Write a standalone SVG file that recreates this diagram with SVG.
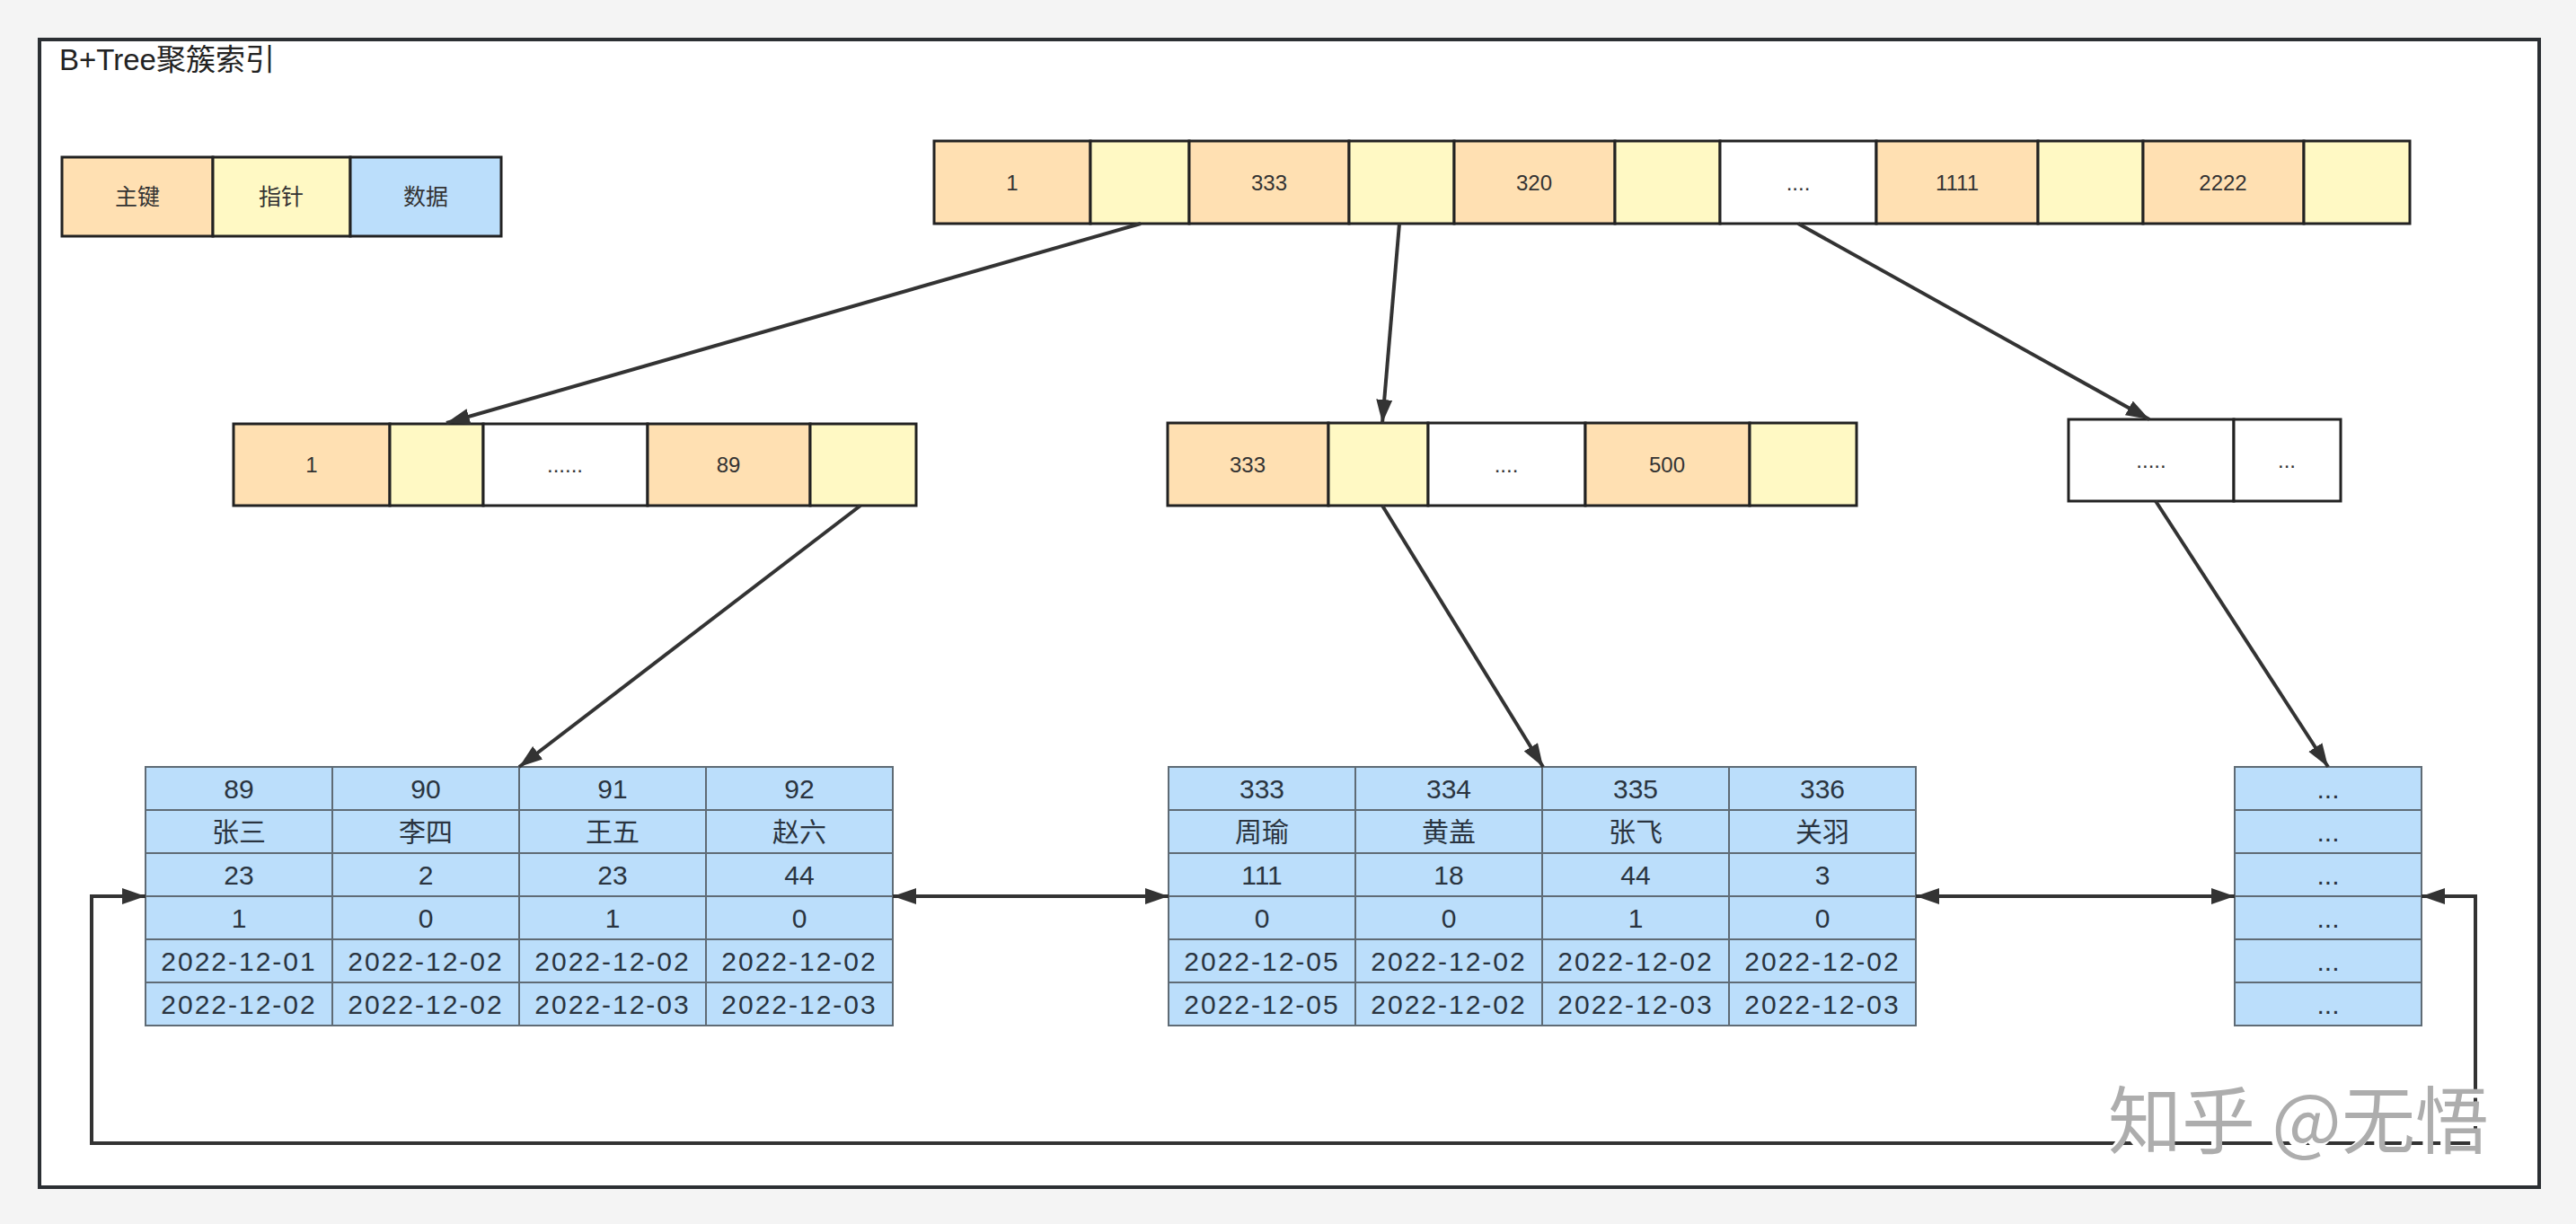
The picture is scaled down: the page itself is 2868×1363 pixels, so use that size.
<svg xmlns="http://www.w3.org/2000/svg" width="2868" height="1363" viewBox="0 0 2868 1363">
<defs>
<style>
text{font-family:"Liberation Sans","Noto Sans CJK SC",sans-serif;fill:#333;text-anchor:middle;dominant-baseline:central}
.k{fill:#FFE0B2}.p{fill:#FFF9C4}.w{fill:#FFFFFF}.d{fill:#BBDEFB}
.n rect{stroke:#222;stroke-width:3}
.n text{font-size:24px}
.lg text{font-size:25px}
.leaf rect{fill:#BBDEFB;stroke:#5f6b75;stroke-width:2}
.leaf text{font-size:30px;fill:#2a3440}
.dt{letter-spacing:2px}
.c{fill:none;stroke:#333;stroke-width:4}
</style>
<marker id="ah" markerUnits="userSpaceOnUse" markerWidth="28" markerHeight="20" refX="26" refY="9" orient="auto-start-reverse" viewBox="0 0 28 20">
<path d="M0,0 L26,9 L0,18 z" fill="#333"/>
</marker>
</defs>
<rect x="0" y="0" width="2868" height="1363" fill="#f4f4f4"/>
<rect x="44" y="44" width="2783" height="1278" fill="#fff" stroke="#2b2f33" stroke-width="4"/>
<text x="66" y="78" style="font-size:33px;text-anchor:start;dominant-baseline:auto;fill:#222">B+Tree聚簇索引</text>

<g id="legend" class="n lg">
<rect class="k" x="69" y="175" width="168" height="88"/><text x="153" y="219">主键</text>
<rect class="p" x="237" y="175" width="153" height="88"/><text x="313" y="219">指针</text>
<rect class="d" x="390" y="175" width="168" height="88"/><text x="474" y="219">数据</text>
</g>

<g id="root" class="n">
<rect class="k" x="1040" y="157" width="174" height="92"/><text x="1127" y="203">1</text>
<rect class="p" x="1214" y="157" width="110" height="92"/>
<rect class="k" x="1324" y="157" width="178" height="92"/><text x="1413" y="203">333</text>
<rect class="p" x="1502" y="157" width="117" height="92"/>
<rect class="k" x="1619" y="157" width="179" height="92"/><text x="1708" y="203">320</text>
<rect class="p" x="1798" y="157" width="117" height="92"/>
<rect class="w" x="1915" y="157" width="174" height="92"/><text x="2002" y="203">....</text>
<rect class="k" x="2089" y="157" width="180" height="92"/><text x="2179" y="203">1111</text>
<rect class="p" x="2269" y="157" width="117" height="92"/>
<rect class="k" x="2386" y="157" width="179" height="92"/><text x="2475" y="203">2222</text>
<rect class="p" x="2565" y="157" width="118" height="92"/>
</g>

<g id="inner-left" class="n">
<rect class="k" x="260" y="472" width="174" height="91"/><text x="347" y="517">1</text>
<rect class="p" x="434" y="472" width="104" height="91"/>
<rect class="w" x="538" y="472" width="183" height="91"/><text x="629" y="517">......</text>
<rect class="k" x="721" y="472" width="181" height="91"/><text x="811" y="517">89</text>
<rect class="p" x="902" y="472" width="118" height="91"/>
</g>

<g id="inner-mid" class="n">
<rect class="k" x="1300" y="471" width="179" height="92"/><text x="1389" y="517">333</text>
<rect class="p" x="1479" y="471" width="111" height="92"/>
<rect class="w" x="1590" y="471" width="175" height="92"/><text x="1677" y="517">....</text>
<rect class="k" x="1765" y="471" width="183" height="92"/><text x="1856" y="517">500</text>
<rect class="p" x="1948" y="471" width="119" height="92"/>
</g>

<g id="inner-right" class="n">
<rect class="w" x="2303" y="467" width="184" height="91"/><text x="2395" y="512">.....</text>
<rect class="w" x="2487" y="467" width="119" height="91"/><text x="2546" y="512">...</text>
</g>

<g id="leaf1" class="leaf">
<rect x="162" y="854" width="208" height="48"/><rect x="370" y="854" width="208" height="48"/><rect x="578" y="854" width="208" height="48"/><rect x="786" y="854" width="208" height="48"/>
<rect x="162" y="902" width="208" height="48"/><rect x="370" y="902" width="208" height="48"/><rect x="578" y="902" width="208" height="48"/><rect x="786" y="902" width="208" height="48"/>
<rect x="162" y="950" width="208" height="48"/><rect x="370" y="950" width="208" height="48"/><rect x="578" y="950" width="208" height="48"/><rect x="786" y="950" width="208" height="48"/>
<rect x="162" y="998" width="208" height="48"/><rect x="370" y="998" width="208" height="48"/><rect x="578" y="998" width="208" height="48"/><rect x="786" y="998" width="208" height="48"/>
<rect x="162" y="1046" width="208" height="48"/><rect x="370" y="1046" width="208" height="48"/><rect x="578" y="1046" width="208" height="48"/><rect x="786" y="1046" width="208" height="48"/>
<rect x="162" y="1094" width="208" height="48"/><rect x="370" y="1094" width="208" height="48"/><rect x="578" y="1094" width="208" height="48"/><rect x="786" y="1094" width="208" height="48"/>
<text x="266" y="878">89</text><text x="474" y="878">90</text><text x="682" y="878">91</text><text x="890" y="878">92</text>
<text x="266" y="926">张三</text><text x="474" y="926">李四</text><text x="682" y="926">王五</text><text x="890" y="926">赵六</text>
<text x="266" y="974">23</text><text x="474" y="974">2</text><text x="682" y="974">23</text><text x="890" y="974">44</text>
<text x="266" y="1022">1</text><text x="474" y="1022">0</text><text x="682" y="1022">1</text><text x="890" y="1022">0</text>
<text class="dt" x="266" y="1070">2022-12-01</text><text class="dt" x="474" y="1070">2022-12-02</text><text class="dt" x="682" y="1070">2022-12-02</text><text class="dt" x="890" y="1070">2022-12-02</text>
<text class="dt" x="266" y="1118">2022-12-02</text><text class="dt" x="474" y="1118">2022-12-02</text><text class="dt" x="682" y="1118">2022-12-03</text><text class="dt" x="890" y="1118">2022-12-03</text>
</g>

<g id="leaf2" class="leaf">
<rect x="1301" y="854" width="208" height="48"/><rect x="1509" y="854" width="208" height="48"/><rect x="1717" y="854" width="208" height="48"/><rect x="1925" y="854" width="208" height="48"/>
<rect x="1301" y="902" width="208" height="48"/><rect x="1509" y="902" width="208" height="48"/><rect x="1717" y="902" width="208" height="48"/><rect x="1925" y="902" width="208" height="48"/>
<rect x="1301" y="950" width="208" height="48"/><rect x="1509" y="950" width="208" height="48"/><rect x="1717" y="950" width="208" height="48"/><rect x="1925" y="950" width="208" height="48"/>
<rect x="1301" y="998" width="208" height="48"/><rect x="1509" y="998" width="208" height="48"/><rect x="1717" y="998" width="208" height="48"/><rect x="1925" y="998" width="208" height="48"/>
<rect x="1301" y="1046" width="208" height="48"/><rect x="1509" y="1046" width="208" height="48"/><rect x="1717" y="1046" width="208" height="48"/><rect x="1925" y="1046" width="208" height="48"/>
<rect x="1301" y="1094" width="208" height="48"/><rect x="1509" y="1094" width="208" height="48"/><rect x="1717" y="1094" width="208" height="48"/><rect x="1925" y="1094" width="208" height="48"/>
<text x="1405" y="878">333</text><text x="1613" y="878">334</text><text x="1821" y="878">335</text><text x="2029" y="878">336</text>
<text x="1405" y="926">周瑜</text><text x="1613" y="926">黄盖</text><text x="1821" y="926">张飞</text><text x="2029" y="926">关羽</text>
<text x="1405" y="974">111</text><text x="1613" y="974">18</text><text x="1821" y="974">44</text><text x="2029" y="974">3</text>
<text x="1405" y="1022">0</text><text x="1613" y="1022">0</text><text x="1821" y="1022">1</text><text x="2029" y="1022">0</text>
<text class="dt" x="1405" y="1070">2022-12-05</text><text class="dt" x="1613" y="1070">2022-12-02</text><text class="dt" x="1821" y="1070">2022-12-02</text><text class="dt" x="2029" y="1070">2022-12-02</text>
<text class="dt" x="1405" y="1118">2022-12-05</text><text class="dt" x="1613" y="1118">2022-12-02</text><text class="dt" x="1821" y="1118">2022-12-03</text><text class="dt" x="2029" y="1118">2022-12-03</text>
</g>

<g id="leaf3" class="leaf">
<rect x="2488" y="854" width="208" height="48"/>
<rect x="2488" y="902" width="208" height="48"/>
<rect x="2488" y="950" width="208" height="48"/>
<rect x="2488" y="998" width="208" height="48"/>
<rect x="2488" y="1046" width="208" height="48"/>
<rect x="2488" y="1094" width="208" height="48"/>
<text x="2592" y="878">...</text><text x="2592" y="926">...</text><text x="2592" y="974">...</text><text x="2592" y="1022">...</text><text x="2592" y="1070">...</text><text x="2592" y="1118">...</text>
</g>

<g id="connectors">
<path class="c" d="M1270,249 L497,471" marker-end="url(#ah)"/>
<path class="c" d="M1558,249 L1539,471" marker-end="url(#ah)"/>
<path class="c" d="M2002,249 L2393,467" marker-end="url(#ah)"/>
<path class="c" d="M958,563 L578,854" marker-end="url(#ah)"/>
<path class="c" d="M1539,563 L1718,854" marker-end="url(#ah)"/>
<path class="c" d="M2400,558 L2592,854" marker-end="url(#ah)"/>
<path class="c" d="M994,998 L1301,998" marker-start="url(#ah)" marker-end="url(#ah)"/>
<path class="c" d="M2133,998 L2488,998" marker-start="url(#ah)" marker-end="url(#ah)"/>
<path class="c" d="M2696,998 H2756 V1273 H102 V998 H162" marker-start="url(#ah)" marker-end="url(#ah)"/>
</g>

<g id="watermark">
<text x="2343" y="1281" style="fill:#fff;stroke:#fff;stroke-width:3;text-anchor:start;dominant-baseline:auto;font-family:'Noto Sans CJK SC',sans-serif;font-size:82px">知乎 @无悟</text>
<text x="2347" y="1278" style="fill:#adadad;text-anchor:start;dominant-baseline:auto;font-family:'Noto Sans CJK SC',sans-serif;font-size:82px">知乎 @无悟</text>
</g>
</svg>
